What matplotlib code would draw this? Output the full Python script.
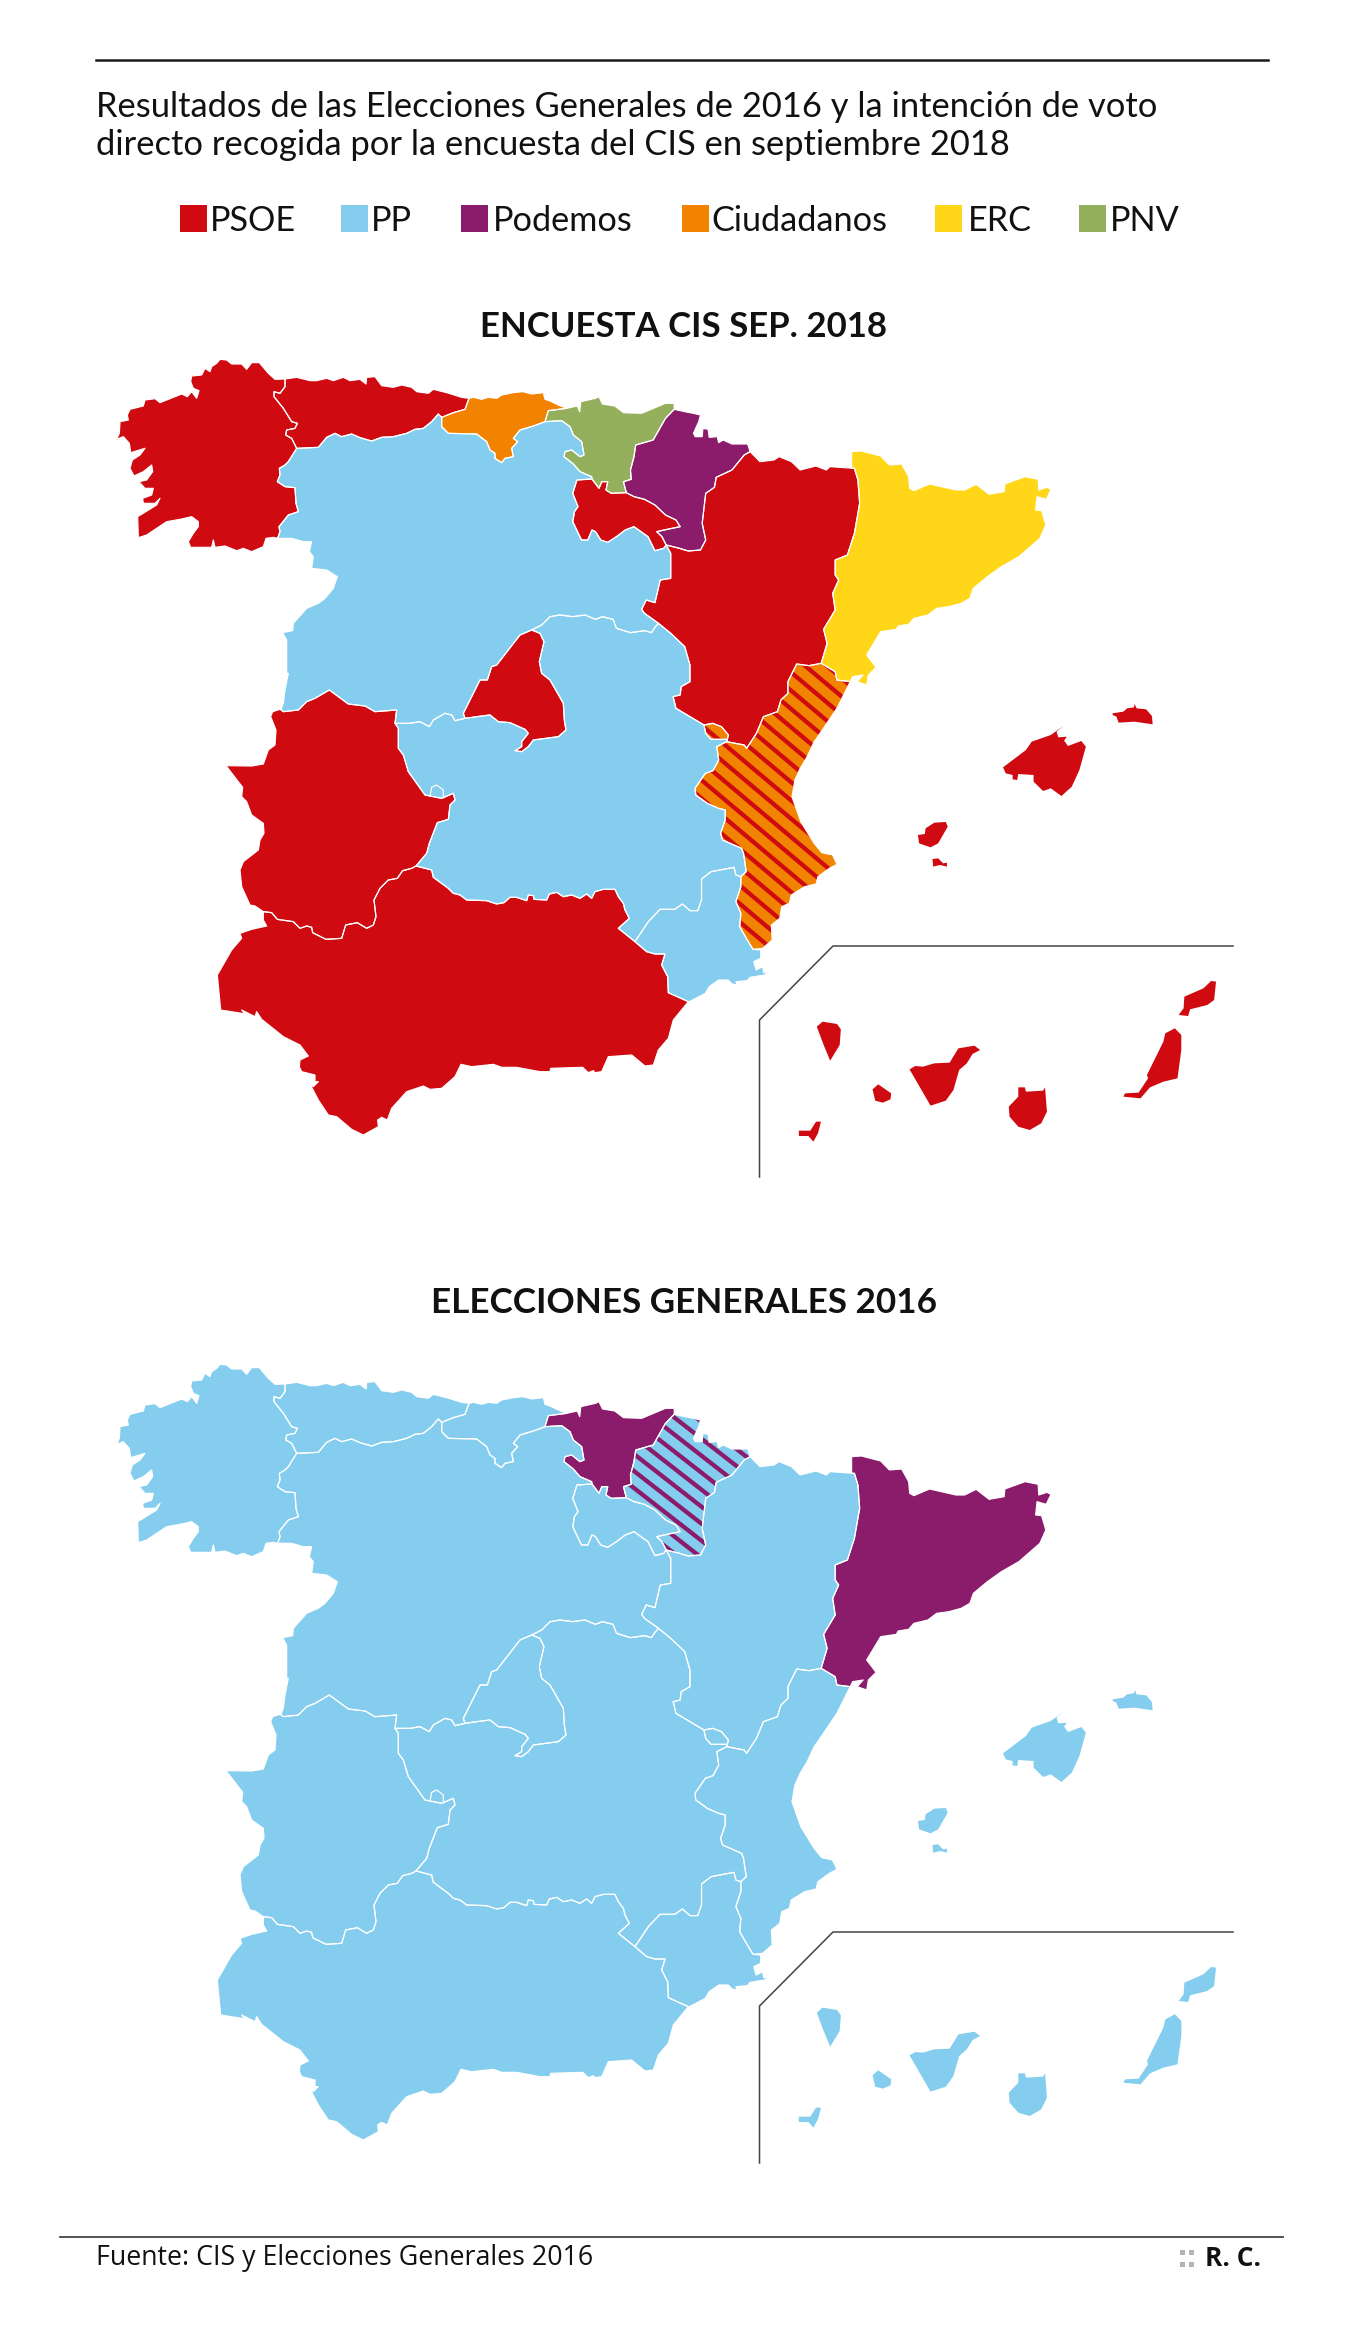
import numpy as np
import matplotlib
matplotlib.use("Agg")
import matplotlib.pyplot as plt
from matplotlib.patches import Polygon, Rectangle


def crop(points, x0, y0, sx=3.0, sy=3.0):
    pts = np.array(points, dtype=float)
    return np.column_stack([x0 + pts[:, 0] / sx, y0 + pts[:, 1] / sy])

def z1(points):
    return crop(points, 100, 340)

def z2(points):
    return crop(points, 550, 380, sx=2.858)

def z3(points):
    return crop(points, 200, 680)

def z4(points):
    return crop(points, 650, 680, sx=2.62)

def z10(points):
    return crop(points, 280, 1080)

def join(*parts):
    return np.vstack(parts)


# Shared borders between regions
gal_coast = z1([(555,117),(525,118),(505,100),(478,68),(455,68),(440,88),(425,72),(395,72),(380,60),(360,58),(350,70),(335,80),(330,95),(315,85),(305,105),(275,108),(272,125),(280,145),(297,152),(290,175),(275,155),(262,170),(245,162),(200,180),(180,188),(165,176),(135,180),(130,198),(90,208),(82,225),(85,240),(60,245),(58,280),(50,298),(70,290),(88,310),(92,338),(135,325),(120,345),(97,360),(90,385),(102,408),(130,395),(155,375),(158,395),(140,420),(117,425),(135,445),(160,445),(155,465),(128,475),(130,490),(165,490),(180,475),(170,495),(113,530),(115,593),(140,585),(200,545),(240,538),(275,530),(295,545),(295,560),(280,580),(265,605),(272,622),(335,622),(340,600),(345,622),(375,618),(410,632),(430,625),(455,635),(490,620),(498,595),(520,592),(533,595)])
gal_cyl = z1([(533,595),(540,575),(537,560),(565,525),(595,515),(588,490),(585,443),(555,440),(532,425),(540,405),(538,385),(555,375),(565,365),(590,325)])
gal_ast = z1([(555,117),(555,140),(540,160),(522,155),(522,170),(550,205),(575,245),(592,250),(585,265),(560,270),(557,285),(575,295),(590,325)])
ast_coast = z1([(555,117),(590,112),(630,122),(650,122),(680,115),(700,122),(730,112),(750,122),(780,118),(798,132),(800,112),(825,110),(845,137),(880,142),(905,135),(935,142),(950,155),(985,160),(1000,148),(1040,158),(1085,172),(1107,175)])
ast_can = z1([(1107,175),(1095,208),(1060,218),(1025,232)])
ast_cyl = z1([(1025,232),(1015,222),(995,245),(970,265),(945,268),(920,280),(880,290),(845,292),(815,303),(780,293),(755,282),(725,290),(705,280),(680,292),(655,322),(590,325)])
can_coast = z1([(1107,175),(1120,172),(1145,178),(1165,172),(1190,175),(1205,165),(1240,158),(1268,155),(1295,162),(1330,158),(1335,178),(1350,183),(1375,195),(1400,205)])
can_bas = z1([(1400,205),(1345,212),(1335,245)])
can_cyl = z1([(1335,245),(1300,258),(1260,270),(1240,295),(1253,305),(1235,325),(1240,350),(1215,355),(1205,368),(1185,355),(1185,340),(1170,330),(1160,305),(1130,282),(1045,280),(1025,260),(1025,232)])
bas_cyl = join(z1([(1335,245),(1385,242),(1410,260),(1420,285),(1445,305),(1452,345),(1440,350),(1415,330),(1395,335),(1392,350),(1420,372),(1440,395),(1475,410)]), z2([(120,297)]))
bas_coast = z2([(48,85),(78,78),(85,95),(88,65),(130,55),(140,50),(150,72),(185,78),(210,98),(262,100),(330,70),(355,70),(355,88)])
bas_nav = z2([(355,88),(330,115),(295,180),(245,195),(240,230),(230,270),(232,298),(210,305),(218,338)])
bas_rio = z2([(218,338),(175,340),(160,330),(165,305),(148,305),(140,325),(120,297)])
nav_coast = z2([(355,88),(385,95),(410,100),(430,105),(425,125),(410,160),(415,170),(435,170),(437,145),(452,148),(455,172),(478,170),(482,188),(495,180),(520,192),(565,192),(572,215)])
nav_ara = z2([(572,215),(555,225),(520,270),(475,292),(470,322),(445,340),(435,430),(445,480),(430,510),(395,513),(370,505),(332,495)])
nav_rio = z2([(332,495),(320,470),(305,455),(335,448),(372,440),(360,420),(330,405),(300,375),(270,358),(240,350),(218,338)])
rio_cyl = z2([(120,297),(77,300),(65,340),(80,380),(70,395),(65,425),(90,480),(108,480),(120,450),(130,455),(145,480),(165,487),(190,470),(215,450),(240,440),(280,470),(300,512),(325,505),(332,495)])
ara_north = z2([(572,215),(600,245),(640,240),(655,230),(690,245),(715,270),(760,258),(790,270),(800,260),(870,265)])
ara_cat = z2([(870,265),(880,300),(885,370),(870,460),(850,525),(815,540),(815,585),(825,600),(808,640),(815,690),(782,748),(792,790),(775,850)])
ara_val = z2([(775,850),(740,857),(705,852),(680,905),(680,940),(660,960),(650,995),(610,1010),(590,1060),(562,1105),(555,1095),(505,1085)])
ara_ademuz = z2([(505,1085),(510,1065),(490,1040),(465,1030),(440,1035)])
ademuz_clm = z2([(440,1035),(445,1060),(460,1078),(505,1078),(505,1085)])
ara_clm = z2([(440,1035),(400,1010),(360,985),(352,950),(372,945),(375,920),(400,905),(400,855),(385,800),(345,760),(310,730)])
ara_cyl = z2([(310,730),(270,700),(262,688),(275,660),(300,668),(315,600),(345,595),(345,520),(332,495)])
cat_coast = z2([(870,265),(862,265),(862,215),(890,213),(945,228),(970,255),(1005,252),(1025,290),(1028,325),(1040,332),(1085,312),(1160,330),(1185,330),(1218,313),(1255,343),(1298,335),(1300,312),(1358,290),(1395,298),(1397,330),(1420,322),(1432,328),(1418,358),(1392,350),(1388,390),(1405,392),(1417,435),(1400,475),(1340,530),(1290,560),(1250,590),(1210,625),(1200,655),(1175,670),(1140,680),(1105,685),(1080,705),(1040,715),(1025,733),(995,738),(990,748),(945,755),(905,825),(932,862),(910,885),(905,915),(878,905),(895,885),(865,890),(858,905)])
cat_val = z2([(858,905),(820,900),(815,875),(775,850)])
val_coast = join(z2([(858,905),(820,985),(775,1055),(755,1085),(735,1130),(715,1165),(700,1200)]),
                 z4([(372,350),(395,425),(430,490),(450,518),(478,525),(490,553),(470,565),(440,590),(435,612),(405,620),(370,645),(365,670),(345,680),(340,715),(318,735),(320,780),(295,805),(270,808)]))
val_mur = z4([(270,808),(255,780),(235,740),(238,700),(225,665),(238,620),(238,590)])
val_clm = join(z4([(238,590),(252,575),(245,520),(240,505),(190,480),(185,460),(197,420),(197,390),(180,385),(150,370),(120,345),(118,325),(145,280),(165,272),(180,240),(175,200)]), z2([(505,1085)]))
mur_coast = z4([(270,808),(290,810),(290,835),(272,845),(278,870),(295,860),(298,878),(312,875),(300,885),(262,892),(255,902),(225,905),(228,915),(215,912),(205,900),(180,900),(155,920),(145,940),(103,965)])
mur_and = z3([(1465,965),(1405,938),(1403,890),(1385,855),(1395,822),(1365,822),(1340,815),(1305,785)])
mur_clm = join(z3([(1305,785),(1345,725),(1380,688)]), z4([(65,688),(85,672),(105,692),(125,692),(135,660),(135,597),(160,575),(220,562),(225,585),(238,590)]))
and_ext = z3([(190,695),(215,698),(232,718),(280,725),(300,745),(320,738),(335,742),(338,758),(378,778),(425,775),(437,735),(472,728),(500,745),(520,735),(528,710),(522,660),(540,625),(565,600),(592,595),(608,572),(635,565),(648,558)])
and_clm = z3([(648,558),(695,570),(700,592),(745,625),(760,640),(780,645),(800,660),(860,662),(890,672),(912,668),(930,652),(950,652),(980,662),(985,645),(1000,647),(1002,658),(1040,660),(1048,642),(1070,637),(1090,650),(1115,645),(1140,655),(1160,642),(1175,655),(1185,635),(1210,628),(1245,628),(1255,650),(1270,670),(1275,690),(1288,715),(1255,745),(1305,785)])
and_coast = join(z3([(1465,965),(1420,1020),(1405,1075),(1375,1110),(1360,1155),(1335,1158),(1295,1125),(1225,1130),(1205,1175),(1185,1178),(1180,1172),(1165,1178),(1148,1162),(1052,1165),(1050,1175),(1020,1175),(950,1162),(905,1162),(880,1153),(815,1160),(783,1153),(765,1190),(725,1225),(690,1228),(670,1218),(620,1235),(575,1285)]),
                 z10([(322,120),(305,112),(293,120),(295,140),(250,165),(215,148),(170,110),(145,105)]),
                 z3([(355,1260),(328,1208),(340,1220),(355,1205),(345,1205),(345,1185),(305,1175),(298,1160),(300,1140),(325,1128),(300,1095),(250,1070),(185,1018),(170,995),(165,1010),(125,990),(135,1003),(125,1000),(62,990),(52,885),(95,810),(125,775),(120,760),(155,748),(200,738),(190,720),(190,695)]))
ext_coast = z3([(190,695),(165,678),(150,675),(125,620),(120,570),(130,545),(175,510),(180,480),(192,460),(190,430),(155,405),(140,365),(125,350),(128,322),(78,257),(155,258),(190,252),(205,210),(225,195),(228,150),(212,110),(218,95),(240,88),(250,95)])
ext_cyl = z3([(250,95),(295,90),(320,65),(345,55),(388,30),(445,72),(495,78),(525,95),(590,90),(585,130)])
ext_clm = z3([(585,130),(595,145),(595,205),(610,225),(625,275),(675,345),(690,348),(725,355),(760,340),(765,360),(750,375),(745,418),(712,428),(688,490),(680,520),(648,558)])
mad_cyl = join(z3([(795,115),(790,100)]), z1([(1140,1020),(1162,1020),(1175,980),(1190,975),(1260,885),(1295,870)]))
mad_clm = join(z1([(1295,870),(1320,880),(1332,905),(1318,965),(1325,1000),(1350,1020),(1390,1090),(1393,1140),(1398,1170)]),
               z3([(1075,170),(1000,180),(985,200),(965,215),(945,212),(965,200),(965,185),(985,160),(975,148),(930,128),(895,125),(870,105),(845,108),(795,115)]))
cyl_clm_w = z3([(585,130),(630,130),(660,125),(688,140),(700,120),(735,100),(755,105),(765,122),(795,115)])
cyl_clm_e = join(z1([(1295,870),(1325,855),(1350,830)]), z2([(28,705),(65,710),(100,705),(130,718),(150,710),(180,718),(190,745),(230,758),(270,752),(290,758),(300,742),(310,730)]))
cyl_portugal = z1([(533,595),(575,595),(610,605),(635,605),(628,635),(640,650),(635,685),(680,690),(712,710),(700,745),(675,775),(655,790),(620,805),(580,850),(578,872),(548,878),(560,900),(560,1000),(565,1000),(555,1050),(550,1090),(543,1108)])
toledo_loop = z3([(690,348),(695,322),(710,315),(730,330),(730,350)])

# Regions
galicia = join(gal_coast, gal_cyl, gal_ast[::-1])
asturias = join(ast_coast, ast_can, ast_cyl, gal_ast[::-1])
cantabria = join(can_coast, can_bas, can_cyl, ast_can[::-1])
pais_vasco = join(bas_coast, bas_nav, bas_rio, bas_cyl[::-1], can_bas[::-1])
navarra = join(nav_coast, nav_ara, nav_rio, bas_nav[::-1])
la_rioja = join(rio_cyl, nav_rio, bas_rio)
aragon = join(ara_north, ara_cat, ara_val, ara_ademuz, ara_clm, ara_cyl, nav_ara[::-1])
cataluna = join(cat_coast, cat_val, ara_cat[::-1])
valencia = join(val_coast, val_mur, val_clm, ara_val[::-1], cat_val[::-1])
ademuz = join(ara_ademuz, ademuz_clm)
murcia = join(mur_coast, mur_and, mur_clm, val_mur[::-1])
andalucia = join(and_ext, and_clm, mur_and[::-1], and_coast)
extremadura = join(ext_coast, ext_cyl, ext_clm, and_ext[::-1])
madrid = join(mad_cyl, mad_clm)
clm = join(cyl_clm_w, mad_clm[::-1], cyl_clm_e, ara_clm[::-1], ademuz_clm, val_clm[::-1], mur_clm[::-1], and_clm[::-1], ext_clm[::-1])
cyl = join(cyl_portugal, ext_cyl, cyl_clm_w, mad_cyl, cyl_clm_e, ara_cyl, rio_cyl[::-1], bas_cyl[::-1], can_cyl, ast_cyl, gal_cyl[::-1])

# Islands
mallorca = z4([(925,262),(985,210),(1000,185),(1050,165),(1083,138),(1065,155),(1070,172),(1092,170),(1085,182),(1095,198),(1130,183),(1142,200),(1125,270),(1105,320),(1078,348),(1050,325),(1030,333),(1005,305),(1005,285),(965,282),(962,300),(950,298),(950,285),(932,280)])
menorca = z4([(1212,100),(1240,95),(1250,85),(1268,82),(1270,72),(1275,85),(1300,88),(1315,108),(1317,133),(1270,125),(1228,128),(1222,110),(1212,105)])
ibiza = z4([(745,428),(775,426),(780,440),(755,490),(735,502),(705,490),(702,465),(720,462),(722,445)])
formentera = z4([(740,537),(755,535),(768,550),(778,548),(778,560),(760,555),(742,560)])
la_palma = z4([(437,1040),(452,1025),(490,1032),(500,1048),(497,1095),(472,1142),(455,1095)])
el_hierro = z4([(390,1352),(420,1352),(435,1325),(448,1325),(440,1360),(428,1385),(415,1368),(390,1368)])
la_gomera = z4([(583,1228),(598,1213),(632,1240),(630,1258),(610,1268),(590,1262)])
tenerife = z4([(680,1168),(695,1158),(715,1160),(745,1150),(785,1148),(808,1105),(850,1097),(865,1110),(845,1122),(830,1150),(810,1170),(795,1230),(775,1262),(735,1277)])
gran_canaria = z4([(965,1222),(982,1222),(985,1235),(1030,1232),(1035,1222),(1040,1295),(1025,1330),(995,1350),(965,1340),(942,1310),(940,1280),(965,1250)])
fuerteventura = z4([(1350,1060),(1375,1045),(1392,1065),(1392,1110),(1382,1195),(1345,1205),(1310,1222),(1285,1255),(1240,1250),(1245,1240),(1280,1238),(1305,1195),(1302,1185),(1330,1120),(1345,1085)])
lanzarote = z4([(1400,950),(1450,925),(1470,903),(1483,905),(1478,960),(1460,975),(1415,988),(1410,1008),(1385,1005),(1398,985)])

mainland = [cyl, clm, galicia, asturias, cantabria, pais_vasco, navarra, la_rioja, aragon, cataluna, valencia, ademuz, murcia, andalucia, extremadura, madrid]
balearics = [mallorca, menorca, ibiza, formentera]
canaries = [la_palma, el_hierro, la_gomera, tenerife, gran_canaria, fuerteventura, lanzarote]

# Winning party per region, same order as the lists above. Tied regions are (fill, stripes)
poll_2018 = ["PP", "PP", "PSOE", "PSOE", "Ciudadanos", "PNV", "Podemos", "PSOE", "PSOE", "ERC",
             ("Ciudadanos", "PSOE"), ("Ciudadanos", "PSOE"), "PP", "PSOE", "PSOE", "PSOE"]
poll_balearics = ["PSOE"] * 4
poll_canaries = ["PSOE"] * 7
votes_2016 = ["PP", "PP", "PP", "PP", "PP", "Podemos", ("PP", "Podemos"), "PP", "PP", "Podemos",
              "PP", "PP", "PP", "PP", "PP", "PP"]
votes_balearics = ["PP"] * 4
votes_canaries = ["PP"] * 7

parties = ["PSOE", "PP", "Podemos", "Ciudadanos", "ERC", "PNV"]
party_colours = ["#CF0B11", "#84CDEE", "#8A1C6B", "#F18300", "#FFD618", "#95B05D"]
colours = dict(zip(parties, party_colours))

FONT = "Lato"

fig = plt.figure(figsize=(13.46, 23.36), dpi=100)
ax = fig.add_axes([0, 0, 1, 1])
ax.set_xlim(0, 1346)
ax.set_ylim(2336, 0)
ax.axis("off")


def draw_stripes(poly, colour, anchor, spacing, slope, width):
    xmin, xmax = poly[:, 0].min(), poly[:, 0].max()
    ymin, ymax = poly[:, 1].min(), poly[:, 1].max()
    top = ymin - slope * (xmax - anchor[0])
    bottom = ymax - slope * (xmin - anchor[0])
    first = anchor[1] + np.ceil((top - anchor[1]) / spacing) * spacing
    clip = Polygon(poly, closed=True, transform=ax.transData)
    for c in np.arange(first, bottom, spacing):
        line, = ax.plot([xmin, xmax], [c + slope * (xmin - anchor[0]), c + slope * (xmax - anchor[0])],
                        color=colour, lw=width * 0.72, solid_capstyle="butt", zorder=3)
        line.set_clip_path(clip)


def draw_group(polys, assign, dy, anchor=(0, 0), spacing=1, slope=0, edge=True):
    for poly, party in zip(polys, assign):
        shifted = poly + [0, dy]
        stripes = None
        if isinstance(party, tuple):
            party, stripes = party
        ax.add_patch(Polygon(shifted, closed=True, facecolor=colours[party], edgecolor="none", zorder=2))
        if stripes:
            draw_stripes(shifted, colours[stripes], anchor, spacing, slope, 4.3)
        if edge:
            ax.add_patch(Polygon(shifted, closed=True, facecolor="none", edgecolor="white", lw=0.85,
                                 joinstyle="round", zorder=4))


# First map
draw_group(mainland, poll_2018, 0, (713.3, 771.7), 18.3, 0.84)
draw_group(balearics, poll_balearics, 0, edge=False)
draw_group(canaries, poll_canaries, 0, edge=False)
ax.plot(toledo_loop[:, 0], toledo_loop[:, 1], color="white", lw=0.85, zorder=4)

# Second map
draw_group(mainland, votes_2016, 1005, (673.3, 1416.7), 17.0, 0.78)
draw_group(balearics, votes_balearics, 986, edge=False)
draw_group(canaries, votes_canaries, 986, edge=False)
ax.plot(toledo_loop[:, 0], toledo_loop[:, 1] + 1005, color="white", lw=0.85, zorder=4)

# Canaries inset frame
inset_x = [759.5, 759.5, 833, 1233]
inset_y = [1177, 1020, 946, 946]
for off in [0, 986]:
    ax.plot(inset_x, [v + off for v in inset_y], color="#444444", lw=1.1, zorder=2)

# Rules and header
ax.plot([96, 1268], [60, 60], color="#1a1a1a", lw=1.8)
ax.plot([60, 1283], [2237, 2237], color="#444444", lw=1.3)
ax.text(96, 117, "Resultados de las Elecciones Generales de 2016 y la intención de voto",
        fontsize=24.8, family=FONT, color="#111111", va="baseline")
ax.text(96, 155, "directo recogida por la encuesta del CIS en septiembre 2018",
        fontsize=24.8, family=FONT, color="#111111", va="baseline")

# Legend
swatch_x = [180, 341, 461, 682, 935, 1079]
label_x = [210, 371, 493, 711, 968, 1110]
for name, sx, lx in zip(parties, swatch_x, label_x):
    ax.add_patch(Rectangle((sx, 205), 27, 27, facecolor=colours[name], edgecolor="none"))
    ax.text(lx, 231, name, fontsize=24.7, family=FONT, color="#111111", va="baseline")

ax.text(683, 337, "ENCUESTA CIS SEP. 2018", fontsize=25, family=FONT, fontweight="bold",
        ha="center", va="baseline", color="#111111")
ax.text(684, 1313, "ELECCIONES GENERALES 2016", fontsize=25.2, family=FONT, fontweight="bold",
        ha="center", va="baseline", color="#111111")

# Footer
ax.text(96, 2265, "Fuente: CIS y Elecciones Generales 2016", fontsize=19.3, family="Open Sans",
        color="#111111", va="baseline")
ax.text(1205, 2266, "R. C.", fontsize=19, family="Open Sans", fontweight="bold", color="#111111", va="baseline")
for sx in [1180, 1189]:
    for sy in [2250, 2262]:
        ax.add_patch(Rectangle((sx, sy), 5, 5, facecolor="#B0B5B8", edgecolor="none"))

fig.savefig("out.png", dpi=100, facecolor="white")
